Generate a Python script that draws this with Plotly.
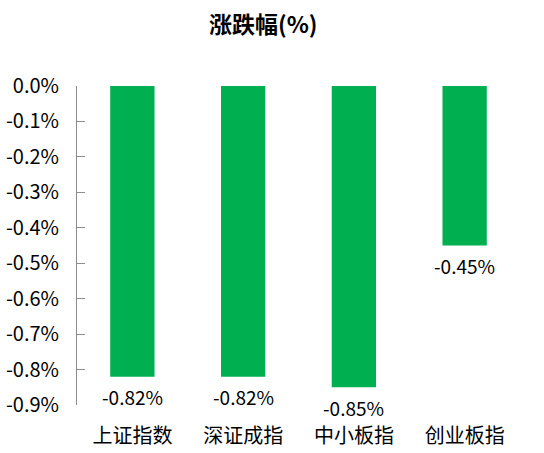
import plotly.graph_objects as go

categories = ["上证指数", "深证成指", "中小板指", "创业板指"]
values = [-0.82, -0.82, -0.85, -0.45]
labels = ["-0.82%", "-0.82%", "-0.85%", "-0.45%"]
ytick_vals = [0, -0.1, -0.2, -0.3, -0.4, -0.5, -0.6, -0.7, -0.8, -0.9]
ytick_text = ["0.0%", "-0.1%", "-0.2%", "-0.3%", "-0.4%", "-0.5%", "-0.6%", "-0.7%", "-0.8%", "-0.9%"]

FONT = "Noto Sans CJK SC"
AXC = "#8c8c8c"

fig = go.Figure()
fig.add_trace(go.Bar(
    x=categories, y=values,
    marker=dict(color="#00B050", line=dict(width=0)),
    cliponaxis=False, hoverinfo="skip",
))

for c, v, t in zip(categories, values, labels):
    fig.add_annotation(x=c, y=v, text=t, showarrow=False, xref="x", yref="y",
                       yanchor="middle", yshift=-20,
                       font=dict(size=19, family=FONT, color="#000000"))

fig.update_layout(
    width=544, height=453,
    margin=dict(l=77, r=24, t=86, b=48, autoexpand=False),
    paper_bgcolor="white", plot_bgcolor="white",
    showlegend=False,
    bargap=0.6,
    font=dict(family=FONT, size=20, color="#000000"),
    title=dict(text="<b>涨跌幅(%)</b>", x=0.484, xanchor="center", y=0.945, yanchor="middle",
               font=dict(size=23, family=FONT, color="#000000")),
    xaxis=dict(type="category", showline=False, showgrid=False, zeroline=False, automargin=False,
               ticks="", tickfont=dict(size=20, family=FONT), ticklabelstandoff=17),
    xaxis2=dict(overlaying="x", side="top", anchor="y", range=[-0.5, 3.5], automargin=False,
                showline=True, linecolor=AXC, linewidth=1, showgrid=False, zeroline=False,
                ticks="inside", ticklen=8, tickcolor=AXC,
                tickvals=[0.5, 1.5, 2.5, 3.5], showticklabels=False),
    yaxis=dict(range=[-0.9, 0], tickvals=ytick_vals, ticktext=ytick_text, automargin=False,
               showline=True, linecolor=AXC, linewidth=1, showgrid=False, zeroline=False,
               ticks="inside", ticklen=8, tickcolor=AXC,
               tickfont=dict(size=20, family=FONT), ticklabelstandoff=13),
)

fig.write_html("out.html")
